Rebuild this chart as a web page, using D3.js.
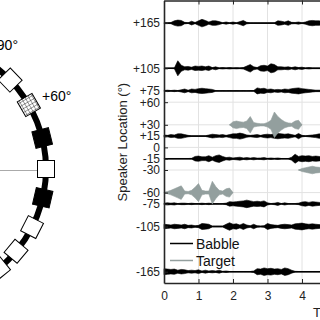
<!DOCTYPE html>
<html>
<head>
<meta charset="utf-8">
<script src="https://cdn.jsdelivr.net/npm/d3@7"></script>
<style>
  body { margin: 0; background: #fff; }
  svg { display: block; font-family: "Liberation Sans", Arial, sans-serif; }
</style>
</head>
<body>
<svg id="chart" width="320" height="320"></svg>
<script>
// speaker ring (left panel), angles in degrees, 0 = straight ahead
const speakerAngles = [-51, -40, -27, -13, 0, 14, 30, 44];
const speakerFills  = ['white', 'white', 'white', 'black', 'white', 'black', 'hatch', 'white'];
const ringLabels    = ['+60°', '+90°'];

// right panel
const yTicks = [165, 105, 75, 60, 30, 15, 0, -15, -30, -60, -75, -105, -165];
const xTicks = [0, 1, 2, 3, 4];
const dt = 0.1; // seconds between envelope samples

const babbleLocations = [165, 105, 75, 15, -15, -75, -105, -165];
const babble165  = [0.5,0.5,0.8,3,4,3.5,1,0.5,2.5,0.8, 3,5,3.5,1.5,3,3,2,0.5,1.5,0.5, 1.5,0.5,2,3.5,1,0.5,0.5,0.5,0.5,0.5, 0.5,0.5,0.5,3,2.5,1.5,3,1,0.8,1.5, 0.5,1.5,3,3.5,3,3,2];
const babble105  = [0.3,0.3,0.3,0.5,10,4,2,2.5,1.5,3, 2.5,3,2,3,1,2,0.5,1,0.5,1, 0.5,0.8,0.5,1,3,5,2,1,3.5,4, 3,6,5,2,2,1.5,2,1,2,1, 1.5,0.5,1,0.5,0.5,0.5,0.5];
const babble75   = [0.5,1,0.5,1,0.5,1.5,2.5,1,2.5,2, 3,3.5,3,2.5,2,0.5,0.3,0.5,0.3,0.5, 0.3,0.5,0.3,0.5,0.3,0.5,0.5,4,3,3.5, 2,2.5,1.5,2,1.5,2.5,2,3,3.5,4, 3,2.5,2,1.5,1,1,1];
const babble15   = [1.5,1,2,1.5,3,3,2,1,0.5,0.5, 0.5,0.5,0.5,1.5,2.5,2,1.5,2,1,2, 3,3,4,3,1.5,1,1.5,2,1,2, 2.5,2,3,3.5,3,2.5,3,2,1,3.5, 1,0.5,1,1.5,2,3,2];
const babbleM15  = [0.3,0.3,0.3,0.3,0.3,0.3,0.3,0.3,0.5,3, 3.5,2.5,2.5,4,2,4,5,3,1.5,2, 1,1.5,2,1,1.5,0.8,1.5,0.8,1,1.5, 0.5,1,0.5,1,0.3,0.3,0.3,2,6,3, 4,3.5,4,3,3.5,3,2.5];
const babbleM75  = [1,1.5,1,1.5,0.5,1,1,0.5,1,0.5, 0.5,1,0.5,1,0.5,0.5,0.3,0.5,1,3, 2.5,3,3.5,4,5,4,3,3.5,3,4, 1.5,0.5,1,2,0.5,1.5,0.5,0.5,0.5,1, 2.5,3,2,3,2.5,2,2];
const babbleM105 = [3,2.5,2,3,2.5,2,3,1.5,2,1, 1.5,4,3.5,3,0.5,0.5,0.5,0.5,3,5, 3,3.5,2,4,2,1,3,1,0.5,1, 4,2.5,2,1.5,2.5,3,2.5,2,3.5,4, 4.5,3.5,3,3.5,3,2.5,3];
const babbleM165 = [4,3.5,3,3.5,2,3,2.5,1.5,2,1.5, 2.5,1,2,1,1.5,1,2,0.5,1,0.3, 0.3,0.3,0.3,0.3,0.3,0.3,1,4,3.5,5, 4,4.5,3.5,4,3,5,4,2,0.5,0.3, 0.3,0.3,0.3,0.3,0.3,0.3,0.3];
const babbleEnvelopes = [babble165, babble105, babble75, babble15, babbleM15, babbleM75, babbleM105, babbleM165];

const targetLocations = [30, -60, -30];
const targetStarts    = [1.9, 0, 3.9];
const target30  = [0,4,5,4,3.5,5,11,3,2,1.5,1.5,3,6,17,11,7,4,2.5,2,5,6,0];
const targetM60 = [0.5,1.5,3,5,7,9,2,1.5,3,7,12,3,2,2,15,8,3,2,5,6,0];
const targetM30 = [0,2,3,4,5,4,3.5,3];
const targetEnvelopes = [target30, targetM60, targetM30];

const babbleColor = '#000';
const targetColor = '#939f9e';
const axisColor = '#262626';
const gridColor = '#e2e2e2';

function ring(svg) {
    let cx = -82, cy = 169, R = 128, side = 17;
    let defs = svg.append('defs');
    let pat = defs.append('pattern')
                  .attr('id', 'hatch')
                  .attr('width', 3.4).attr('height', 3.4)
                  .attr('patternUnits', 'userSpaceOnUse');
    pat.append('rect').attr('width', 3.4).attr('height', 3.4).attr('fill', '#fff');
    pat.append('path').attr('d', 'M0,0H3.4M0,0V3.4')
       .attr('stroke', '#000').attr('stroke-width', 0.7);

    // line from the centre to the 0° speaker
    svg.append('line')
       .attr('x1', 0).attr('x2', cx + R - side / 2)
       .attr('y1', cy + 1.5).attr('y2', cy + 1.5)
       .attr('stroke', '#aaa').attr('stroke-width', 1);

    svg.append('circle')
       .attr('cx', cx).attr('cy', cy).attr('r', R)
       .attr('fill', 'none').attr('stroke', '#000').attr('stroke-width', 6);

    let pos = a => [cx + R * Math.cos(a * Math.PI / 180), cy - R * Math.sin(a * Math.PI / 180)];

    svg.selectAll('rect.spk')
       .data(speakerAngles)
       .enter().append('rect')
       .attr('class', 'spk')
       .attr('x', -side / 2).attr('y', -side / 2)
       .attr('width', side).attr('height', side)
       .attr('transform', d => `translate(${pos(d)}) rotate(${-d})`)
       .attr('fill', (d, i) => speakerFills[i] == 'hatch' ? 'url(#hatch)' : speakerFills[i])
       .attr('stroke', '#000').attr('stroke-width', 1);

    svg.append('text')
       .attr('x', 42).attr('y', 101)
       .attr('font-size', 14)
       .text(ringLabels[0]);
    svg.append('text')
       .attr('x', 18).attr('y', 50)
       .attr('text-anchor', 'end')
       .attr('font-size', 14)
       .text(ringLabels[1]);
}

function waves(svg) {
    let margin = {top: 0.5, left: 164},
        width  = 345,
        height = 282.5,
        g      = svg.append('g').attr('transform', `translate(${margin.left},${margin.top})`);

    let x = d3.scaleLinear().domain([0, 10]).range([0, width]);
    let y = d3.scaleLinear().domain([-180, 195]).range([height, 0]);

    // grid
    g.append('g').selectAll('line')
     .data(xTicks.slice(1))
     .enter().append('line')
     .attr('x1', d => x(d)).attr('x2', d => x(d))
     .attr('y1', 0).attr('y2', height)
     .attr('stroke', gridColor);
    g.append('g').selectAll('line')
     .data(yTicks)
     .enter().append('line')
     .attr('x1', 0).attr('x2', width)
     .attr('y1', d => y(d)).attr('y2', d => y(d))
     .attr('stroke', gridColor);

    let envelope = (loc, t0) => d3.area()
        .x((d, i) => x(t0 + i * dt))
        .y0(d => y(loc - d))
        .y1(d => y(loc + d));

    babbleEnvelopes.forEach((env, k) => {
        let loc = babbleLocations[k];
        g.append('line')
         .attr('x1', 0).attr('x2', width)
         .attr('y1', y(loc)).attr('y2', y(loc))
         .attr('stroke', babbleColor).attr('stroke-width', 1.4);
        g.append('path')
         .datum(env)
         .attr('d', envelope(loc, 0))
         .attr('fill', babbleColor)
         .attr('stroke', babbleColor).attr('stroke-width', 0.6);
    });

    targetEnvelopes.forEach((env, k) => {
        let loc = targetLocations[k], t0 = targetStarts[k];
        g.append('line')
         .attr('x1', x(t0)).attr('x2', x(t0 + (env.length - 1) * dt))
         .attr('y1', y(loc)).attr('y2', y(loc))
         .attr('stroke', targetColor).attr('stroke-width', 1.4);
        g.append('path')
         .datum(env)
         .attr('d', envelope(loc, t0))
         .attr('fill', targetColor)
         .attr('stroke', targetColor).attr('stroke-width', 0.6);
    });

    // axes
    let left = g.append('g')
        .call(d3.axisLeft(y).tickValues(yTicks)
                .tickSize(-4).tickSizeOuter(0).tickPadding(4)
                .tickFormat(d => d > 0 ? `+${d}` : `${d}`));
    let bottom = g.append('g')
        .attr('transform', `translate(0,${height})`)
        .call(d3.axisBottom(x).tickValues(xTicks)
                .tickSize(-4).tickSizeOuter(0).tickPadding(8)
                .tickFormat(d => `${d}`));
    let top = g.append('g')
        .call(d3.axisTop(x).tickValues(xTicks)
                .tickSize(-4).tickSizeOuter(0).tickFormat(''));
    [left, bottom, top].forEach(a => {
        a.select('.domain').attr('stroke', axisColor).attr('stroke-width', 1.6);
        a.selectAll('.tick line').attr('stroke', axisColor).attr('stroke-width', 1);
        a.selectAll('.tick text')
         .attr('fill', '#222')
         .attr('font-family', '"Liberation Sans", Arial, sans-serif')
         .attr('font-size', 12);
    });

    g.append('text')
     .attr('transform', `translate(-37,${y(7)}) rotate(-90)`)
     .attr('text-anchor', 'middle')
     .attr('font-size', 13)
     .attr('fill', '#222')
     .text('Speaker Location (°)');
    g.append('text')
     .attr('x', x(5)).attr('y', 316)
     .attr('text-anchor', 'middle')
     .attr('font-size', 13)
     .attr('fill', '#222')
     .text('Time (s)');

    // legend
    let legend = g.append('g').attr('transform', 'translate(6,243)');
    [['Babble', babbleColor], ['Target', targetColor]].forEach((item, i) => {
        legend.append('line')
              .attr('x1', 0).attr('x2', 23)
              .attr('y1', i * 17).attr('y2', i * 17)
              .attr('stroke', item[1]).attr('stroke-width', 1.5);
        legend.append('text')
              .attr('x', 26).attr('y', i * 17 + 5)
              .attr('font-size', 14)
              .attr('fill', '#111')
              .text(item[0]);
    });
}

let svg = d3.select('#chart');
svg.append('rect').attr('width', 320).attr('height', 320).attr('fill', '#fff');
ring(svg);
waves(svg);
</script>
</body>
</html>
